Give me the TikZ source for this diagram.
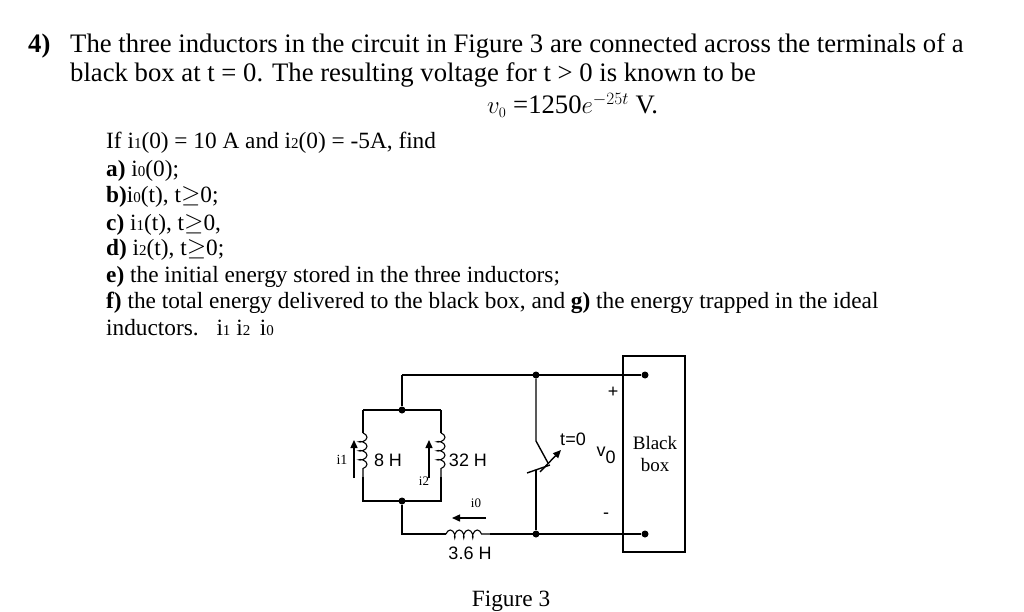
\documentclass[tikz,border=0pt]{standalone}
\usepackage{fontspec}
\setmainfont{Liberation Serif}
\newfontfamily\sans{Liberation Sans}
\usetikzlibrary{arrows.meta,decorations.pathmorphing}
\newcommand{\sm}[1]{{\fontsize{15}{15}\selectfont #1}}
\begin{document}
\begin{tikzpicture}[x=1pt,y=-1pt,
  txt/.style={anchor=base west,inner sep=0pt,font=\fontsize{26.7}{26.7}\selectfont},
  lst/.style={anchor=base west,inner sep=0pt,font=\fontsize{23.3}{23.3}\selectfont},
  lab/.style={inner sep=0pt,font=\sans\fontsize{18}{18}\selectfont},
  w/.style={line width=1.4pt},
  dot/.style={circle,fill,inner sep=0pt,minimum size=7pt},
  coil/.style={line width=1.1pt,decorate,decoration={coil,aspect=0.5,segment length=9pt,amplitude=4pt}},
  arr/.style={line width=1.4pt,-{Triangle[length=8pt,width=7pt]}}]
\useasboundingbox[fill=white] (0,0) rectangle (1024,612);
\node[txt] (l0) at (28,53) {\textbf{4)}};
\node[txt] (l1) at (70,53) {The three inductors in the circuit in Figure 3 are connected across the terminals of a};
\node[txt] (l2) at (70,82) {black box at t = 0. The resulting voltage for t > 0 is known to be};
\node[txt] (l3) at (487,114) {$v_{\scriptscriptstyle 0}$ =1250$e^{-25t}$ V.};
\node[lst] (a0) at (106,149) {If i\sm{1}(0) = 10 A and i\sm{2}(0) = -5A, find};
\node[lst] (a1) at (106,177) {\textbf{a)} i\sm{0}(0);};
\node[lst] (a2) at (106,203) {\textbf{b)}i\sm{0}(t), t$\geq$0;};
\node[lst] (a3) at (106,230) {\textbf{c)} i\sm{1}(t), t$\geq$0,};
\node[lst] (a4) at (106,255) {\textbf{d)} i\sm{2}(t), t$\geq$0;};
\node[lst] (a5) at (106,282) {\textbf{e)} the initial energy stored in the three inductors;};
\node[lst] (a6) at (106,308) {\textbf{f)} the total energy delivered to the black box, and \textbf{g)} the energy trapped in the ideal};
\node[lst] (a7) at (106,335) {inductors.\hspace{10pt} i\sm{1} i\sm{2}\, i\sm{0}};
% circuit
\coordinate (tl) at (402,375);
\node[dot] (tj) at (536,375) {};
\node[dot] (tt) at (645,375) {};
\node[dot] (pj) at (402,410) {};
\coordinate (p1t) at (363,410);
\coordinate (p2t) at (441,410);
\coordinate (p1a) at (363,433);
\coordinate (p1b) at (363,477);
\coordinate (p2a) at (441,433);
\coordinate (p2b) at (441,477);
\coordinate (p1d) at (363,501);
\coordinate (p2d) at (441,501);
\node[dot] (bj) at (402,501) {};
\coordinate (bl) at (402,534);
\coordinate (la) at (446,534);
\coordinate (lb) at (490,534);
\node[dot] (sj) at (536,534) {};
\node[dot] (bt) at (645,534) {};
\coordinate (s1) at (536,441);
\draw[w] (tl) -- (tt);
\draw[w] (tl) -- (pj);
\draw[w] (p1t) -- (p2t);
\draw[w] (p1t) -- (p1a) (p1b) -- (p1d) -- (p2d) -- (p2b) (p2a) -- (p2t);
\draw[coil] (p1a) -- (p1b);
\draw[coil] (p2a) -- (p2b);
\draw[w] (bj) -- (bl) -- (la) (lb) -- (bt);
\draw[coil] (la) -- (lb);
\draw[w] (tj) -- (s1) -- (548,463);
\draw[w] (536,470) -- (sj);
\draw[w] (527,473) -- (550,465);
\draw[arr] (540,472) -- (561,450);
\node[draw,w,minimum width=62pt,minimum height=196pt,inner sep=0pt] (box) at (654,454) {};
\node[lab,align=center,font=\fontsize{19}{22}\selectfont] (bbl) at (655,454) {Black\\box};
\node[lab] (t0) at (573,439) {t=0};
\node[lab] (v0) at (606,455) {v\raisebox{-7pt}{0}};
\node[lab] (pl) at (613,392) {+};
\node[lab] (mi) at (606,516) {-};
\draw[arr] (354,478) -- (354,440);
\draw[arr] (429,478) -- (429,440);
\node[lab,font=\fontsize{14}{14}\selectfont] (i1) at (342,460) {i1};
\node[lab,font=\fontsize{13}{13}\selectfont] (i2) at (424,481) {i2};
\node[lab,font=\fontsize{13}{13}\selectfont] (i0) at (476,503) {i0};
\draw[arr] (486,518) -- (452,518);
\node[lab] (l8) at (388,460) {8 H};
\node[lab] (l32) at (468,460) {32 H};
\node[lab] (l36) at (470,553) {3.6 H};
\node[anchor=base,inner sep=0pt,font=\fontsize{23.3}{23.3}\selectfont] (fig) at (511,606) {Figure 3};
\end{tikzpicture}
\end{document}
